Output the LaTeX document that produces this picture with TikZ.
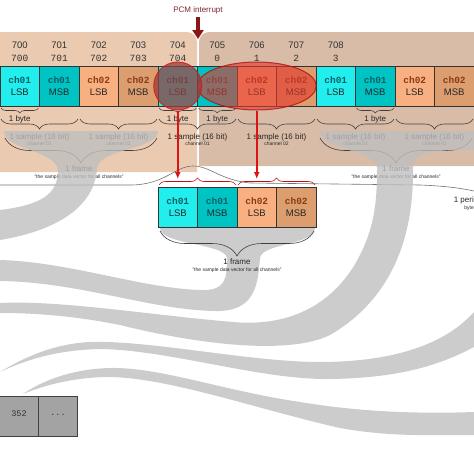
\documentclass[tikz,border=0pt]{standalone}
\usepackage{fontspec}
\setmainfont{Liberation Sans}
\setmonofont{Liberation Mono}
\usepackage{tikz}
\usetikzlibrary{positioning,arrows.meta,decorations.pathreplacing,shapes.geometric}

\definecolor{tanLeft}{HTML}{EACAB0}
\definecolor{tanRight}{HTML}{D9BCA7}
\definecolor{chOneLo}{HTML}{22EEEE}
\definecolor{chOneHi}{HTML}{00C4C4}
\definecolor{chTwoLo}{HTML}{F8B080}
\definecolor{chTwoHi}{HTML}{DC9E6E}
\definecolor{chOneText}{HTML}{0E5F66}
\definecolor{chTwoText}{HTML}{8A3A18}
\definecolor{swoosh}{HTML}{CCCCCC}
\definecolor{pcmRed}{HTML}{8B1616}
\definecolor{pcmText}{HTML}{7D2432}
\definecolor{hiRed}{HTML}{DC1414}
\definecolor{ovRed}{HTML}{E1372D}
\definecolor{ovGrey}{HTML}{963C3C}
\definecolor{plainBox}{HTML}{A3A3A3}

\begin{document}
\begin{tikzpicture}[x=1pt, y=-1pt,
node distance=0pt,
cell/.style={draw=black!80, line width=0.7pt, minimum width=39.5pt, minimum height=40pt, inner sep=0pt, outer sep=0pt, align=center, font=\fontsize{9.5}{12}\selectfont, text=black!85},
oneLo/.style={cell, fill=chOneLo},
oneHi/.style={cell, fill=chOneHi},
twoLo/.style={cell, fill=chTwoLo},
twoHi/.style={cell, fill=chTwoHi},
plain/.style={draw=black!75, line width=0.7pt, fill=plainBox, minimum width=39pt, minimum height=40pt, inner sep=0pt, outer sep=0pt, font=\ttfamily\fontsize{8.5}{10}\selectfont, text=black!80},
idx/.style={font=\fontsize{9.5}{10}\selectfont, text=black!80, inner sep=0pt},
idxmono/.style={font=\ttfamily\fontsize{9.5}{10}\selectfont, text=black!80, inner sep=0pt},
brc/.style={decorate, decoration={brace, mirror, amplitude=#1}, draw=black!75, line width=0.6pt},
redbrc/.style={decorate, decoration={brace, amplitude=7pt}, draw=hiRed!85!black, line width=0.6pt},
lbl/.style={font=\fontsize{8}{9}\selectfont, inner sep=0pt, text=black!85},
tiny/.style={font=\fontsize{5}{6}\selectfont, inner sep=0pt, text=black!85},
hilite/.style={fill=ovRed, fill opacity=0.62, draw=hiRed!80!black, draw opacity=0.8, line width=1pt, inner sep=0pt},
hidark/.style={fill=ovGrey, fill opacity=0.75, draw=hiRed, draw opacity=0.8, line width=1pt, inner sep=0pt},
arrow/.style={-{Latex[length=7pt,width=6pt]}, line width=1.6pt, hiRed},
veil/.style={fill=black!25, fill opacity=0.8}
]
\useasboundingbox (0,0) rectangle (474,474);
\clip (0,0) rectangle (474,474);

% backgrounds
\fill[tanLeft] (0,172) -- (0,32) [rounded corners=10pt] -- (197,32) [sharp corners] -- (197,172) -- cycle;
\fill[tanRight] (474,166) -- (199,166) [rounded corners=10pt] -- (199,32) [sharp corners] -- (474,32) -- cycle;

% swooshes in the back
\fill[swoosh] (160,228) -- (315,228) .. controls (315,245) and (262,243) .. (260,258) .. controls (258,285) and (255,312) .. (215,311) .. controls (150,310) and (80,282) .. (0,281) -- (0,260) .. controls (70,262) and (140,288) .. (200,290) .. controls (225,291) and (227,280) .. (227,258) .. controls (225,243) and (160,245) .. (160,228) -- cycle;
\fill[swoosh] (474,312) .. controls (440,350) and (380,362) .. (320,362) .. controls (250,362) and (150,340) .. (90,342) .. controls (50,344) and (20,360) .. (0,372) .. controls (30,358) and (60,350) .. (100,349) .. controls (170,350) and (260,380) .. (330,379) .. controls (400,378) and (440,365) .. (474,347) -- cycle;
\fill[swoosh] (474,412) .. controls (420,414) and (360,412) .. (300,402) .. controls (220,390) and (160,367) .. (110,368) .. controls (70,369) and (40,382) .. (23,394) .. controls (45,385) and (75,377) .. (110,377) .. controls (170,378) and (260,410) .. (340,428) .. controls (390,437) and (430,435) .. (474,435) -- cycle;

% period brace line
\draw[black!55, line width=0.6pt] (0,185) -- (130,185) .. controls (165,185) and (175,166) .. (193,166) .. controls (210,166) and (220,180) .. (250,183) -- (420,185) .. controls (445,186) and (460,188) .. (474,191);
\node[lbl, anchor=east] (per) at (474,200) {1 peri};
\node[tiny, anchor=east] (perb) at (474,208) {byte};

% interrupt
\node[font=\fontsize{8}{9}\selectfont, text=pcmText] (pcm) at (198,10) {PCM interrupt};
\coordinate (irq) at (198,39);
\draw[-{Triangle[length=9pt,width=11pt]}, line width=3.5pt, pcmRed] (pcm.south) -- (irq);

% buffer
\node[oneLo] (c0) at (19.75,86) {\textcolor{chOneText}{\ttfamily\bfseries ch01}\\LSB};
\node[oneHi, right=of c0] (c1) {\textcolor{chOneText}{\ttfamily\bfseries ch01}\\MSB};
\node[twoLo, right=of c1] (c2) {\textcolor{chTwoText}{\ttfamily\bfseries ch02}\\LSB};
\node[twoHi, right=of c2] (c3) {\textcolor{chTwoText}{\ttfamily\bfseries ch02}\\MSB};
\node[oneLo, right=of c3] (c4) {\textcolor{chOneText}{\ttfamily\bfseries ch01}\\LSB};
\node[oneHi, right=of c4] (c5) {\textcolor{chOneText}{\ttfamily\bfseries ch01}\\MSB};
\node[twoLo, right=of c5] (c6) {\textcolor{chTwoText}{\ttfamily\bfseries ch02}\\LSB};
\node[twoHi, right=of c6] (c7) {\textcolor{chTwoText}{\ttfamily\bfseries ch02}\\MSB};
\node[oneLo, right=of c7] (c8) {\textcolor{chOneText}{\ttfamily\bfseries ch01}\\LSB};
\node[oneHi, right=of c8] (c9) {\textcolor{chOneText}{\ttfamily\bfseries ch01}\\MSB};
\node[twoLo, right=of c9] (c10) {\textcolor{chTwoText}{\ttfamily\bfseries ch02}\\LSB};
\node[twoHi, right=of c10] (c11) {\textcolor{chTwoText}{\ttfamily\bfseries ch02}\\MSB};

% indices
\node[idx] (i0) at ([yshift=21pt]c0.north) {700};
\node[idx] (i1) at ([yshift=21pt]c1.north) {701};
\node[idx] (i2) at ([yshift=21pt]c2.north) {702};
\node[idx] (i3) at ([yshift=21pt]c3.north) {703};
\node[idx] (i4) at ([yshift=21pt]c4.north) {704};
\node[idx] (i5) at ([yshift=21pt]c5.north) {705};
\node[idx] (i6) at ([yshift=21pt]c6.north) {706};
\node[idx] (i7) at ([yshift=21pt]c7.north) {707};
\node[idx] (i8) at ([yshift=21pt]c8.north) {708};
\node[idxmono] (j0) at ([yshift=8pt]c0.north) {700};
\node[idxmono] (j1) at ([yshift=8pt]c1.north) {701};
\node[idxmono] (j2) at ([yshift=8pt]c2.north) {702};
\node[idxmono] (j3) at ([yshift=8pt]c3.north) {703};
\node[idxmono] (j4) at ([yshift=8pt]c4.north) {704};
\node[idxmono] (j5) at ([yshift=8pt]c5.north) {0};
\node[idxmono] (j6) at ([yshift=8pt]c6.north) {1};
\node[idxmono] (j7) at ([yshift=8pt]c7.north) {2};
\node[idxmono] (j8) at ([yshift=8pt]c8.north) {3};

% bytes
\draw[brc=5pt] ([xshift=1pt,yshift=-2pt]c0.south west) -- ([xshift=-1pt,yshift=-2pt]c0.south east);
\draw[brc=5pt] ([xshift=1pt,yshift=-2pt]c4.south west) -- ([xshift=-1pt,yshift=-2pt]c4.south east);
\draw[brc=5pt] ([xshift=1pt,yshift=-2pt]c5.south west) -- ([xshift=-1pt,yshift=-2pt]c5.south east);
\draw[brc=5pt] ([xshift=1pt,yshift=-2pt]c9.south west) -- ([xshift=-1pt,yshift=-2pt]c9.south east);
\node[lbl] (b0) at ([yshift=-13pt]c0.south) {1 byte};
\node[lbl] (b4) at ([yshift=-13pt]c4.south) {1 byte};
\node[lbl] (b5) at ([yshift=-13pt]c5.south) {1 byte};
\node[lbl] (b9) at ([yshift=-13pt]c9.south) {1 byte};

% samples
\draw[brc=10pt] ([xshift=1pt,yshift=-13pt]c0.south west) -- ([xshift=-1pt,yshift=-13pt]c1.south east);
\draw[brc=10pt] ([xshift=1pt,yshift=-13pt]c2.south west) -- ([xshift=-1pt,yshift=-13pt]c3.south east);
\draw[brc=10pt] ([xshift=1pt,yshift=-13pt]c4.south west) -- ([xshift=-1pt,yshift=-13pt]c5.south east);
\draw[brc=10pt] ([xshift=1pt,yshift=-13pt]c6.south west) -- ([xshift=-1pt,yshift=-13pt]c7.south east);
\draw[brc=10pt] ([xshift=1pt,yshift=-13pt]c8.south west) -- ([xshift=-1pt,yshift=-13pt]c9.south east);
\draw[brc=10pt] ([xshift=1pt,yshift=-13pt]c10.south west) -- ([xshift=-1pt,yshift=-13pt]c11.south east);
\node[lbl] (s0) at ([yshift=-31pt]c0.south east) {1 sample (16 bit)};
\node[tiny] (h0) at ([yshift=-38pt]c0.south east) {channel 01};
\node[lbl] (s1) at ([yshift=-31pt]c2.south east) {1 sample (16 bit)};
\node[tiny] (h1) at ([yshift=-38pt]c2.south east) {channel 02};
\node[lbl] (s2) at ([yshift=-31pt]c4.south east) {1 sample (16 bit)};
\node[tiny] (h2) at ([yshift=-38pt]c4.south east) {channel 01};
\node[lbl] (s3) at ([yshift=-31pt]c6.south east) {1 sample (16 bit)};
\node[tiny] (h3) at ([yshift=-38pt]c6.south east) {channel 02};
\node[lbl] (s4) at ([yshift=-31pt]c8.south east) {1 sample (16 bit)};
\node[tiny] (h4) at ([yshift=-38pt]c8.south east) {channel 01};
\node[lbl] (s5) at ([yshift=-31pt]c10.south east) {1 sample (16 bit)};
\node[tiny] (h5) at ([yshift=-38pt]c10.south east) {channel 02};

% frames
\draw[brc=25pt] (5,138) -- (157,138);
\draw[brc=25pt] (320,138) -- (472,138);
\node[lbl] (f0) at (79,169) {1 frame};
\node[tiny] (q0) at (79,177) {"the sample data vector for all channels"};
\node[lbl] (f2) at (396,169) {1 frame};
\node[tiny] (q2) at (396,177) {"the sample data vector for all channels"};

% copied frame
\node[oneLo] (n0) at (177.75,207) {\textcolor{chOneText}{\ttfamily\bfseries ch01}\\LSB};
\node[oneHi, right=of n0] (n1) {\textcolor{chOneText}{\ttfamily\bfseries ch01}\\MSB};
\node[twoLo, right=of n1] (n2) {\textcolor{chTwoText}{\ttfamily\bfseries ch02}\\LSB};
\node[twoHi, right=of n2] (n3) {\textcolor{chTwoText}{\ttfamily\bfseries ch02}\\MSB};
\draw[brc=25pt] ([xshift=2pt,yshift=-4pt]n0.south west) -- ([xshift=-2pt,yshift=-4pt]n3.south east);
\node[lbl] (f1) at ([yshift=-35pt]n1.south east) {1 frame};
\node[tiny] (q1) at ([yshift=-43pt]n1.south east) {"the sample data vector for all channels"};
\draw[redbrc] ([xshift=1pt,yshift=2pt]n0.north west) -- ([xshift=-1pt,yshift=2pt]n1.north east);
\draw[redbrc] ([xshift=1pt,yshift=2pt]n2.north west) -- ([xshift=-1pt,yshift=2pt]n3.north east);

% read position
\node[hilite, ellipse, minimum width=119pt, minimum height=48pt] (ov2) at (c6) {};
\node[hidark, circle, minimum size=48pt] (ov1) at (c4) {};
\coordinate (t1) at (ov1.south |- n0.north);
\coordinate (t2) at (ov2.south |- n2.north);
\draw[arrow] (ov1.south) -- ([yshift=8pt]t1);
\draw[arrow] (ov2.south) -- ([yshift=8pt]t2);

% front swooshes
\fill[veil] (4,131) -- (158,131) .. controls (158,150) and (100,148) .. (97,168) .. controls (95,205) and (60,230) .. (0,240) -- (0,210) .. controls (40,205) and (58,195) .. (58,170) .. controls (56,150) and (4,150) .. (4,131) -- cycle;
\fill[veil] (320,131) -- (474,131) -- (474,150) .. controls (440,150) and (413,150) .. (413,168) .. controls (414,240) and (390,300) .. (330,335) .. controls (290,355) and (200,345) .. (120,325) .. controls (70,315) and (30,313) .. (0,313) -- (0,303) .. controls (60,300) and (150,315) .. (233,322) .. controls (300,328) and (340,295) .. (360,255) .. controls (375,225) and (377,200) .. (377,168) .. controls (377,150) and (320,150) .. (320,131) -- cycle;

% period cells
\node[plain] (p0) at (19,416) {\raisebox{4pt}{352}};
\node[plain, right=of p0] (p1) {\raisebox{3pt}{...}};
\end{tikzpicture}
\end{document}
